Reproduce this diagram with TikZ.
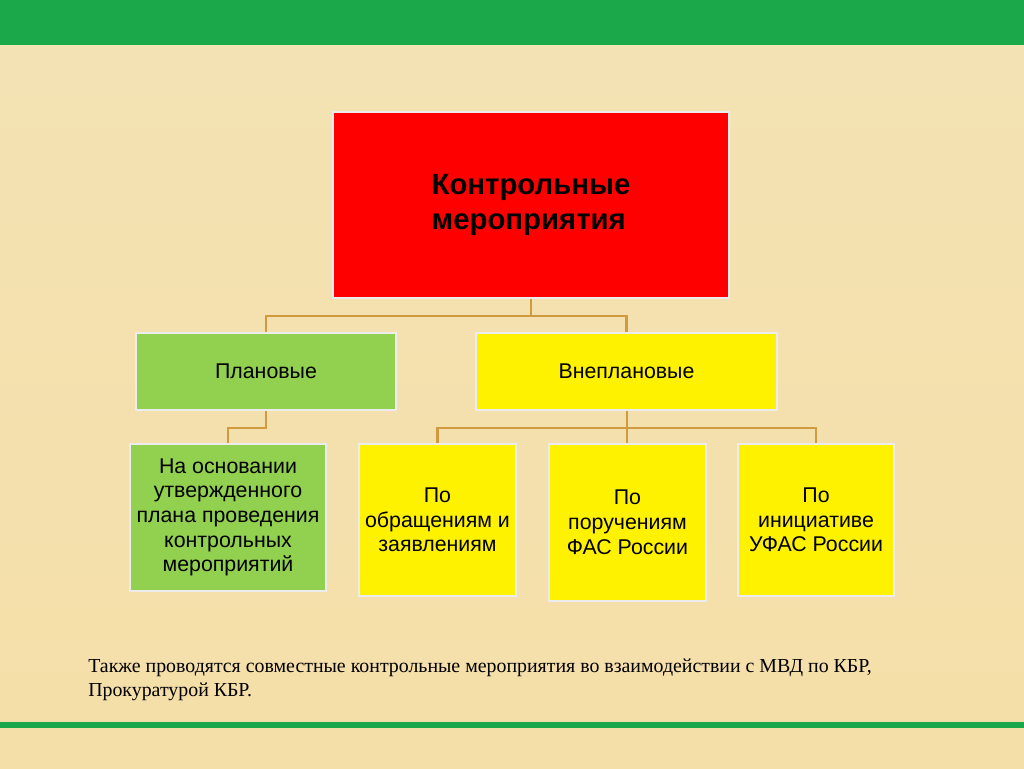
\documentclass[tikz,border=0pt]{standalone}
\usepackage{fontspec}
\setmainfont{Liberation Sans}
\newfontfamily\serifrm{Liberation Serif}
\definecolor{bgtop}{HTML}{F3E2B4}
\definecolor{bgbot}{HTML}{F5DFA8}
\definecolor{gbar}{HTML}{1AA84A}
\definecolor{lgreen}{HTML}{92D050}
\definecolor{connc}{HTML}{D09A40}
\begin{document}
\begin{tikzpicture}[x=0.75pt,y=-0.75pt,
 box/.style={draw=white!85!gray,line width=1.2pt,align=center,inner sep=0pt,font=\fontsize{16}{18.5}\selectfont},
 conn/.style={draw=connc,line width=2.2pt}]
\useasboundingbox (0,0) rectangle (1024,768);
\shade[top color=bgtop,bottom color=bgbot] (0,0) rectangle (1024,768);
\fill[gbar] (0,0) rectangle (1024,45);
\fill[gbar] (0,722) rectangle (1024,728);
\node[box,fill=red,minimum width=396*0.75pt,minimum height=186*0.75pt,font=\bfseries\fontsize{22}{26}\selectfont,align=left] (top) at (531,205) {Контрольные\\мероприятия};
\node[box,fill=lgreen,minimum width=260*0.75pt,minimum height=77*0.75pt] (plan) at (266,371.5) {Плановые};
\node[box,fill=yellow,minimum width=301*0.75pt,minimum height=77*0.75pt] (vne) at (626.5,371.5) {Внеплановые};
\node[box,fill=lgreen,minimum width=196*0.75pt,minimum height=147*0.75pt,anchor=north] (a) at (228,443) {На основании\\утвержденного\\плана проведения\\контрольных\\мероприятий};
\node[box,fill=yellow,minimum width=157*0.75pt,minimum height=152*0.75pt,anchor=north] (b) at (437.5,443) {По\\обращениям и\\заявлениям};
\node[box,fill=yellow,minimum width=157*0.75pt,minimum height=157*0.75pt,anchor=north] (c) at (627.5,443) {По\\поручениям\\ФАС России};
\node[box,fill=yellow,minimum width=156*0.75pt,minimum height=152*0.75pt,anchor=north] (d) at (816,443) {По\\инициативе\\УФАС России};
\coordinate (j1) at (531,316);
\coordinate (j2) at (627,428);
\coordinate (j3) at (266,428);
\draw[conn] (top.south) -- (j1);
\draw[conn] (j1) -| (plan.north);
\draw[conn] (j1) -| (vne.north);
\draw[conn] (plan.south) -- (j3) -| (a.north);
\draw[conn] (j2 |- vne.south) -- (j2);
\draw[conn] (j2) -| (b.north);
\draw[conn] (j2) -- (j2 |- c.north);
\draw[conn] (j2) -| (d.north);
\node[anchor=north west,align=left,font=\serifrm\fontsize{14.9}{17.5}\selectfont,inner sep=0pt] (t) at (88,659) {Также проводятся совместные контрольные мероприятия во взаимодействии с МВД по КБР,\\Прокуратурой КБР.};
\end{tikzpicture}
\end{document}
